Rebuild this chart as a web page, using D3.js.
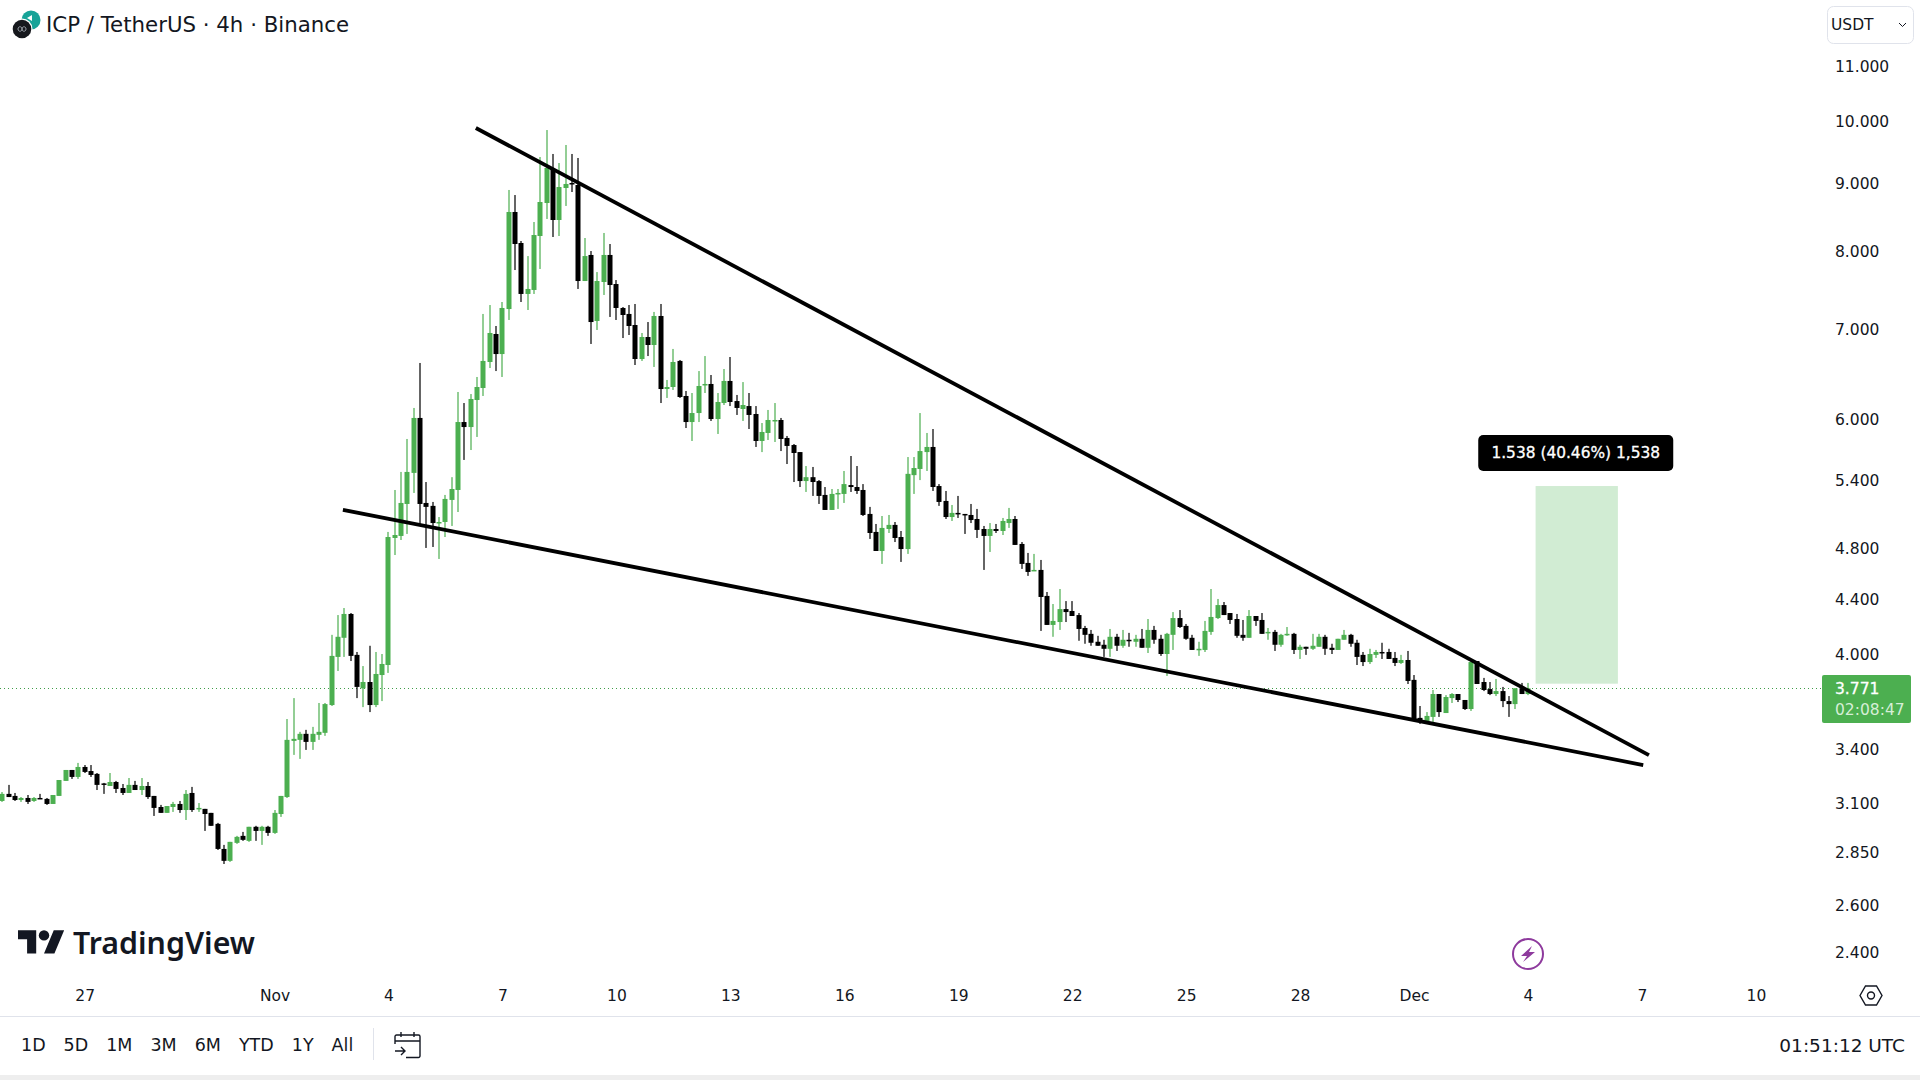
<!DOCTYPE html>
<html>
<head>
<meta charset="utf-8">
<script src="https://cdn.jsdelivr.net/npm/d3@7"></script>
<style>
html,body{margin:0;padding:0;background:#fff}
svg{display:block}
text{font-family:"DejaVu Sans",sans-serif;fill:#131722}
.axis text{font-size:15.5px;font-family:"DejaVu Sans",sans-serif}
</style>
</head>
<body>
<script>
// 4h bars, first one opens 2025-10-24 20:00 UTC
var firstBar = Date.UTC(2025, 9, 24, 20);
var opens = [3.107,3.145,3.134,3.112,3.123,3.107,3.123,3.118,3.091,3.134,
3.216,3.277,3.238,3.294,3.271,3.255,3.202,3.188,3.210,3.177,
3.150,3.194,3.166,3.188,3.134,3.075,3.044,3.075,3.091,3.059,
3.150,3.065,3.065,3.044,2.987,2.861,2.803,2.891,2.926,2.901,
2.972,2.951,2.972,2.941,3.038,3.128,3.445,3.451,3.487,3.439,
3.481,3.493,3.664,3.980,4.113,4.285,3.994,3.771,3.812,3.664,
3.858,3.925,4.883,4.900,5.177,5.461,6.002,5.186,5.160,5.010,
5.019,5.213,5.303,5.960,5.909,6.190,6.319,6.608,6.934,6.699,
7.238,8.552,8.108,7.428,7.479,8.206,8.685,9.208,8.435,8.912,
8.989,8.958,7.595,7.943,7.091,7.582,7.943,7.556,7.251,7.177,
7.042,6.642,6.898,6.804,7.152,6.308,6.330,6.620,6.233,5.960,
6.053,6.352,6.363,5.991,6.158,6.396,6.179,6.095,6.126,6.043,
5.769,5.849,5.971,5.981,5.799,5.729,5.660,5.385,5.421,5.385,
5.258,5.124,5.267,5.267,5.348,5.330,5.303,5.089,4.934,4.775,
4.959,4.994,4.891,4.791,5.440,5.498,5.660,5.710,5.339,5.204,
5.062,5.098,5.089,5.080,5.045,4.959,4.900,4.959,4.942,5.010,
5.045,4.833,4.678,4.614,4.622,4.420,4.205,4.226,4.321,4.307,
4.277,4.183,4.141,4.085,4.064,4.036,4.120,4.057,4.099,4.085,
4.106,4.043,4.169,4.106,4.000,4.134,4.255,4.198,4.113,4.028,
4.028,4.155,4.255,4.351,4.292,4.248,4.134,4.113,4.270,4.241,
4.148,4.155,4.064,4.134,4.141,4.028,4.050,4.036,4.050,4.120,
4.043,4.028,4.099,4.134,4.078,3.994,3.945,3.994,4.014,4.014,
3.973,3.939,3.959,3.826,3.584,3.565,3.590,3.734,3.614,3.708,
3.734,3.696,3.639,3.952,3.812,3.766,3.734,3.753,3.689,3.670,3.771,3.734];
var highs = [3.155,3.194,3.150,3.128,3.139,3.128,3.145,3.123,3.139,3.221,
3.277,3.277,3.317,3.305,3.305,3.260,3.205,3.260,3.216,3.199,
3.232,3.216,3.232,3.210,3.134,3.086,3.080,3.102,3.107,3.166,
3.183,3.096,3.065,3.044,2.992,2.881,2.896,2.926,2.946,2.972,
2.977,2.977,2.977,3.059,3.134,3.577,3.708,3.499,3.511,3.529,
3.677,3.677,4.134,4.277,4.329,4.292,4.014,3.918,4.057,4.014,
4.000,4.934,5.303,5.470,5.789,6.106,6.597,5.376,5.195,5.062,
5.258,5.421,6.276,6.158,6.254,6.440,7.177,7.288,7.030,7.326,
8.882,8.805,8.136,7.928,8.406,9.400,9.846,9.449,9.303,9.596,
9.449,9.384,8.178,7.997,7.713,8.249,8.094,7.608,7.263,7.288,
7.301,6.946,7.078,7.202,7.301,6.407,6.758,6.631,6.287,6.265,
6.506,6.676,6.462,6.265,6.529,6.665,6.244,6.384,6.265,6.126,
5.950,6.085,6.158,6.002,5.819,5.739,5.660,5.526,5.517,5.394,
5.330,5.312,5.312,5.479,5.622,5.526,5.357,5.151,5.002,5.071,
5.080,5.019,4.942,5.612,5.612,6.053,5.849,5.889,5.357,5.294,
5.168,5.249,5.089,5.177,5.133,4.985,5.010,5.002,5.054,5.142,
5.071,4.849,4.759,4.751,4.702,4.450,4.359,4.473,4.381,4.381,
4.292,4.198,4.169,4.127,4.099,4.176,4.141,4.169,4.148,4.134,
4.176,4.248,4.198,4.134,4.148,4.299,4.314,4.212,4.134,4.085,
4.234,4.473,4.397,4.374,4.292,4.285,4.241,4.314,4.270,4.292,
4.183,4.169,4.141,4.190,4.148,4.064,4.050,4.141,4.141,4.134,
4.071,4.106,4.169,4.141,4.099,4.014,4.036,4.028,4.078,4.036,
4.014,3.994,4.021,3.858,3.658,3.620,3.760,3.734,3.727,3.740,
3.734,3.696,3.945,3.952,3.839,3.812,3.832,3.780,3.721,3.771,3.806,3.806];
var lows = [3.102,3.128,3.107,3.102,3.091,3.102,3.118,3.086,3.091,3.134,
3.216,3.227,3.227,3.260,3.238,3.166,3.145,3.188,3.150,3.139,
3.150,3.166,3.139,3.118,3.028,3.044,3.044,3.049,3.044,3.007,
3.049,3.049,2.951,2.977,2.856,2.788,2.798,2.886,2.901,2.896,
2.901,2.881,2.926,2.936,3.023,3.123,3.363,3.340,3.392,3.392,
3.451,3.475,3.658,3.885,3.980,3.952,3.708,3.651,3.620,3.651,
3.689,3.872,4.742,4.866,4.917,5.276,4.994,4.800,4.808,4.710,
4.891,4.985,5.106,5.584,5.680,5.809,6.233,6.540,6.506,6.440,
7.103,7.740,7.326,7.226,7.428,7.754,8.450,8.192,8.206,8.641,
8.851,7.492,7.595,6.816,6.982,7.415,7.140,7.103,6.886,6.922,
6.574,6.620,6.676,6.552,6.158,6.212,6.298,6.212,5.899,5.769,
5.960,6.265,5.971,5.839,6.137,6.126,6.033,5.971,5.889,5.710,
5.660,5.779,5.759,5.670,5.545,5.376,5.330,5.285,5.249,5.177,
5.124,5.124,5.133,5.186,5.285,5.267,5.071,4.875,4.775,4.670,
4.925,4.849,4.686,4.751,5.267,5.394,5.479,5.294,5.160,5.045,
5.028,5.054,4.917,5.010,4.883,4.622,4.767,4.925,4.908,4.968,
4.825,4.630,4.575,4.614,4.162,4.205,4.120,4.169,4.226,4.270,
4.092,4.071,4.057,4.057,3.980,3.980,4.021,4.043,4.050,4.050,
4.043,4.007,4.071,3.987,3.852,4.028,4.183,4.099,4.028,3.987,
4.014,4.134,4.248,4.277,4.212,4.113,4.092,4.113,4.198,4.141,
4.099,4.021,4.050,4.127,4.000,3.966,3.994,4.028,4.050,3.994,
4.000,4.028,4.099,4.050,3.925,3.918,3.932,3.973,3.966,3.966,
3.918,3.932,3.799,3.571,3.547,3.565,3.559,3.590,3.614,3.677,
3.683,3.633,3.627,3.799,3.753,3.727,3.721,3.651,3.590,3.639,3.734,3.727];
var closes = [3.145,3.128,3.112,3.123,3.102,3.123,3.118,3.091,3.139,3.221,
3.277,3.238,3.294,3.266,3.249,3.194,3.199,3.210,3.172,3.150,
3.194,3.166,3.188,3.128,3.070,3.044,3.080,3.091,3.059,3.145,
3.059,3.070,3.038,2.977,2.861,2.803,2.896,2.921,2.906,2.972,
2.951,2.972,2.941,3.044,3.134,3.451,3.457,3.487,3.439,3.487,
3.499,3.670,3.987,4.120,4.285,3.987,3.780,3.812,3.664,3.865,
3.932,4.891,4.908,5.186,5.470,6.002,5.177,5.151,5.010,5.019,
5.222,5.312,5.960,5.909,6.201,6.330,6.620,6.946,6.699,7.251,
8.552,8.094,7.428,7.492,8.220,8.700,9.224,8.435,8.927,8.974,
8.974,7.595,7.928,7.078,7.595,7.943,7.543,7.251,7.164,7.030,
6.642,6.898,6.804,7.152,6.308,6.330,6.608,6.222,5.960,6.053,
6.341,6.363,5.991,6.169,6.396,6.169,6.106,6.137,6.033,5.769,
5.859,5.981,5.981,5.789,5.720,5.651,5.385,5.421,5.376,5.249,
5.124,5.267,5.276,5.357,5.330,5.294,5.080,4.925,4.775,4.968,
4.994,4.883,4.791,5.452,5.507,5.670,5.710,5.330,5.195,5.062,
5.098,5.089,5.080,5.036,4.951,4.900,4.959,4.942,5.028,5.045,
4.825,4.670,4.606,4.622,4.412,4.205,4.234,4.321,4.299,4.270,
4.176,4.134,4.078,4.057,4.036,4.120,4.057,4.099,4.092,4.106,
4.043,4.169,4.099,4.000,4.141,4.255,4.190,4.106,4.028,4.036,
4.162,4.263,4.351,4.277,4.241,4.127,4.113,4.270,4.234,4.141,
4.155,4.064,4.134,4.141,4.028,4.050,4.036,4.057,4.120,4.036,
4.028,4.106,4.134,4.071,3.980,3.945,4.000,4.014,4.007,3.966,
3.939,3.959,3.819,3.571,3.559,3.596,3.734,3.620,3.715,3.734,
3.696,3.639,3.945,3.799,3.760,3.734,3.753,3.689,3.670,3.771,3.734,3.771];

var priceTicks = [11,10,9,8,7,6,5.4,4.8,4.4,4,3.4,3.1,2.85,2.6,2.4];
var dateTicks = ["2025-10-27","2025-11-01","2025-11-04","2025-11-07","2025-11-10","2025-11-13","2025-11-16",
    "2025-11-19","2025-11-22","2025-11-25","2025-11-28","2025-12-01","2025-12-04","2025-12-07","2025-12-10"];
var ranges = ["1D","5D","1M","3M","6M","YTD","1Y","All"];

// trend lines and target box as [bar number, price]
var upperLine = [[74.8,9.88],[260.1,3.362]];
var lowerLine = [[53.8,5.125],[259.2,3.305]];
var targetBox = [[242.2,5.339],[255.2,3.801]];
var lastPrice = 3.771;

var w = 1920, h = 1080, paneRight = 1822;
var barMs = 4 * 3600 * 1000;
var barTime = function(i){ return new Date(firstBar + i * barMs); };

var x = d3.scaleUtc().domain([barTime(0), barTime(241)]).range([2.33, 1528]);
var y = d3.scaleLog().domain([10, 4]).range([121, 654]);

var green = "#4caf50", dark = "#000";

var svg = d3.select("body").append("svg").attr("width", w).attr("height", h);
svg.append("rect").attr("width", w).attr("height", h).attr("fill", "#fff");

// target box, sits under the candles
svg.append("rect")
    .attr("x", x(barTime(targetBox[0][0])))
    .attr("y", y(targetBox[0][1]))
    .attr("width", x(barTime(targetBox[1][0])) - x(barTime(targetBox[0][0])))
    .attr("height", y(targetBox[1][1]) - y(targetBox[0][1]))
    .attr("fill", "#d1ecd3");

// last price line
svg.append("line")
    .attr("x1", 0).attr("x2", paneRight)
    .attr("y1", Math.floor(y(lastPrice)) + 0.5).attr("y2", Math.floor(y(lastPrice)) + 0.5)
    .attr("stroke", "#3f9d48").attr("stroke-width", 1).attr("stroke-dasharray", "1 3");

// candles
var bars = svg.append("g").selectAll("g").data(d3.range(opens.length)).enter().append("g")
    .attr("fill", function(i){ return closes[i] >= opens[i] ? green : dark; });

bars.append("rect")
    .attr("x", function(i){ return Math.round(x(barTime(i))) - 0.6; })
    .attr("width", 1.2)
    .attr("y", function(i){ return y(highs[i]); })
    .attr("height", function(i){ return y(lows[i]) - y(highs[i]); });

bars.append("rect")
    .attr("x", function(i){ return Math.round(x(barTime(i))) - 2.5; })
    .attr("width", 5)
    .attr("y", function(i){ return y(Math.max(opens[i], closes[i])); })
    .attr("height", function(i){ return Math.max(1.5, Math.abs(y(opens[i]) - y(closes[i]))); });

// wedge
var trend = d3.line()
    .x(function(d){ return x(barTime(d[0])); })
    .y(function(d){ return y(d[1]); });
svg.selectAll(".trend").data([upperLine, lowerLine]).enter().append("path")
    .attr("class", "trend")
    .attr("d", trend)
    .attr("fill", "none")
    .attr("stroke", "#000")
    .attr("stroke-width", 3.8);

// measure label
var targetMid = (x(barTime(targetBox[0][0])) + x(barTime(targetBox[1][0]))) / 2;
svg.append("rect")
    .attr("x", targetMid - 98.5).attr("y", 435)
    .attr("width", 195).attr("height", 36).attr("rx", 5)
    .attr("fill", "#000");
svg.append("text")
    .attr("x", targetMid - 1).attr("y", 453)
    .attr("dy", "0.35em").attr("text-anchor", "middle")
    .style("font-size", "15.4px").style("fill", "#fff").style("stroke", "#fff").style("stroke-width", .3)
    .text("1.538 (40.46%) 1,538");

// price scale
var yAxis = d3.axisRight(y).tickValues(priceTicks).tickFormat(d3.format(".3f")).tickSize(0).tickPadding(0);
var yG = svg.append("g").attr("class", "axis").attr("transform", "translate(1835,1)").call(yAxis);
yG.select(".domain").remove();

// last price tag
svg.append("rect")
    .attr("x", paneRight).attr("y", 675).attr("width", 89).attr("height", 48).attr("rx", 2)
    .attr("fill", green);
svg.append("text").attr("x", 1835).attr("y", y(lastPrice)).attr("dy", "0.35em")
    .style("font-size", "15.5px").style("fill", "#fff").style("stroke", "#fff").style("stroke-width", .3)
    .text(d3.format(".3f")(lastPrice));
svg.append("text").attr("x", 1835).attr("y", 710).attr("dy", "0.35em")
    .style("font-size", "15.5px").style("fill", "#d6eed7")
    .text("02:08:47");

// time scale
var xAxis = d3.axisBottom(x)
    .tickValues(dateTicks.map(function(d){ return new Date(d + "T00:00:00Z"); }))
    .tickFormat(function(d){ return d.getUTCDate() == 1 ? d3.utcFormat("%b")(d) : d.getUTCDate(); })
    .tickSize(0).tickPadding(0);
var xG = svg.append("g").attr("class", "axis").attr("transform", "translate(0,990)").call(xAxis);
xG.select(".domain").remove();

// title
var sym = svg.append("g");
sym.append("circle").attr("cx", 31).attr("cy", 20).attr("r", 9.5).attr("fill", "#17a398");
sym.append("path").attr("d", "M27 18l5-3v6z").attr("fill", "#fff");
sym.append("circle").attr("cx", 22).attr("cy", 29).attr("r", 10.5).attr("fill", "#fff");
sym.append("circle").attr("cx", 22).attr("cy", 29).attr("r", 9.3).attr("fill", "#16181d");
sym.append("path").attr("d", "M18 29c0-3 4-3 4 0s4 3 4 0s-4-3-4 0s-4 3-4 0")
    .attr("fill", "none").attr("stroke", "#9aa0a8").attr("stroke-width", 1);
svg.append("text").attr("x", 46).attr("y", 32)
    .style("font-size", "21.3px")
    .text("ICP / TetherUS \u00b7 4h \u00b7 Binance");

// currency button
svg.append("rect").attr("x", 1827.5).attr("y", 6.5).attr("width", 86).attr("height", 37).attr("rx", 6)
    .attr("fill", "#fff").attr("stroke", "#e0e3eb");
svg.append("text").attr("x", 1831).attr("y", 25).attr("dy", "0.35em")
    .style("font-size", "15.5px").text("USDT");
svg.append("path").attr("d", "M1899 23l3.5 3.5l3.5-3.5").attr("fill", "none").attr("stroke", "#131722");

// logo
var logo = svg.append("g").attr("transform", "translate(18,925) scale(1.3)").attr("fill", "#131722");
logo.append("path").attr("d", "M14 22H7V11H0V4h14v18zM28 22h-8l7.5-18h8L28 22z");
logo.append("circle").attr("cx", 20).attr("cy", 8).attr("r", 4);
svg.append("text").attr("x", 73).attr("y", 954)
    .attr("textLength", 182).attr("lengthAdjust", "spacingAndGlyphs")
    .style("font-family", "'Noto Sans',sans-serif")
    .style("font-size", "30.5px").style("font-weight", 600)
    .text("TradingView");

// bolt marker
var boltG = svg.append("g").attr("transform", "translate(" + x(barTime(241)) + ",954)");
boltG.append("circle").attr("r", 15).attr("fill", "#fff").attr("stroke", "#8e3a9d").attr("stroke-width", 2);
boltG.append("path").attr("d", "M4-8L-7 2H-1L-5 8L7-2H1Z").attr("fill", "#8e3a9d");

// settings icon
var gear = svg.append("g").attr("transform", "translate(1871,995.5)")
    .attr("fill", "none").attr("stroke", "#131722").attr("stroke-width", 1.4);
gear.append("path").attr("d", "M-11 0L-5.5-9.5H5.5L11 0L5.5 9.5H-5.5Z");
gear.append("circle").attr("r", 3.5);

// bottom bar
svg.append("line").attr("x1", 0).attr("x2", w).attr("y1", 1016.5).attr("y2", 1016.5).attr("stroke", "#e0e3eb");
svg.append("rect").attr("y", 1075).attr("width", w).attr("height", 5).attr("fill", "#eeeeee");

// range buttons are laid out by their own text width
var nextX = 21;
svg.selectAll(".range").data(ranges).enter().append("text")
    .attr("class", "range")
    .attr("y", 1045).attr("dy", "0.35em")
    .style("font-size", "17.5px")
    .text(function(d){ return d; })
    .each(function(){
        d3.select(this).attr("x", nextX);
        nextX += this.getComputedTextLength() + 18;
    });
svg.append("line").attr("x1", 373.5).attr("x2", 373.5).attr("y1", 1028).attr("y2", 1060).attr("stroke", "#e0e3eb");

var cal = svg.append("g").attr("transform", "translate(394,1031)")
    .attr("fill", "none").attr("stroke", "#131722").attr("stroke-width", 1.4);
cal.append("path").attr("d", "M1 13V5.5a1.5 1.5 0 0 1 1.5-1.5h22a1.5 1.5 0 0 1 1.5 1.5V25a1.5 1.5 0 0 1-1.5 1.5H12");
cal.append("path").attr("d", "M1 10H26M7 1V6M20 1V6");
cal.append("path").attr("d", "M1 20H11M7 16L11 20L7 24");

svg.append("text").attr("x", 1905).attr("y", 1046).attr("dy", "0.35em").attr("text-anchor", "end")
    .style("font-size", "18.5px")
    .text("01:51:12 UTC");
</script>
</body>
</html>
